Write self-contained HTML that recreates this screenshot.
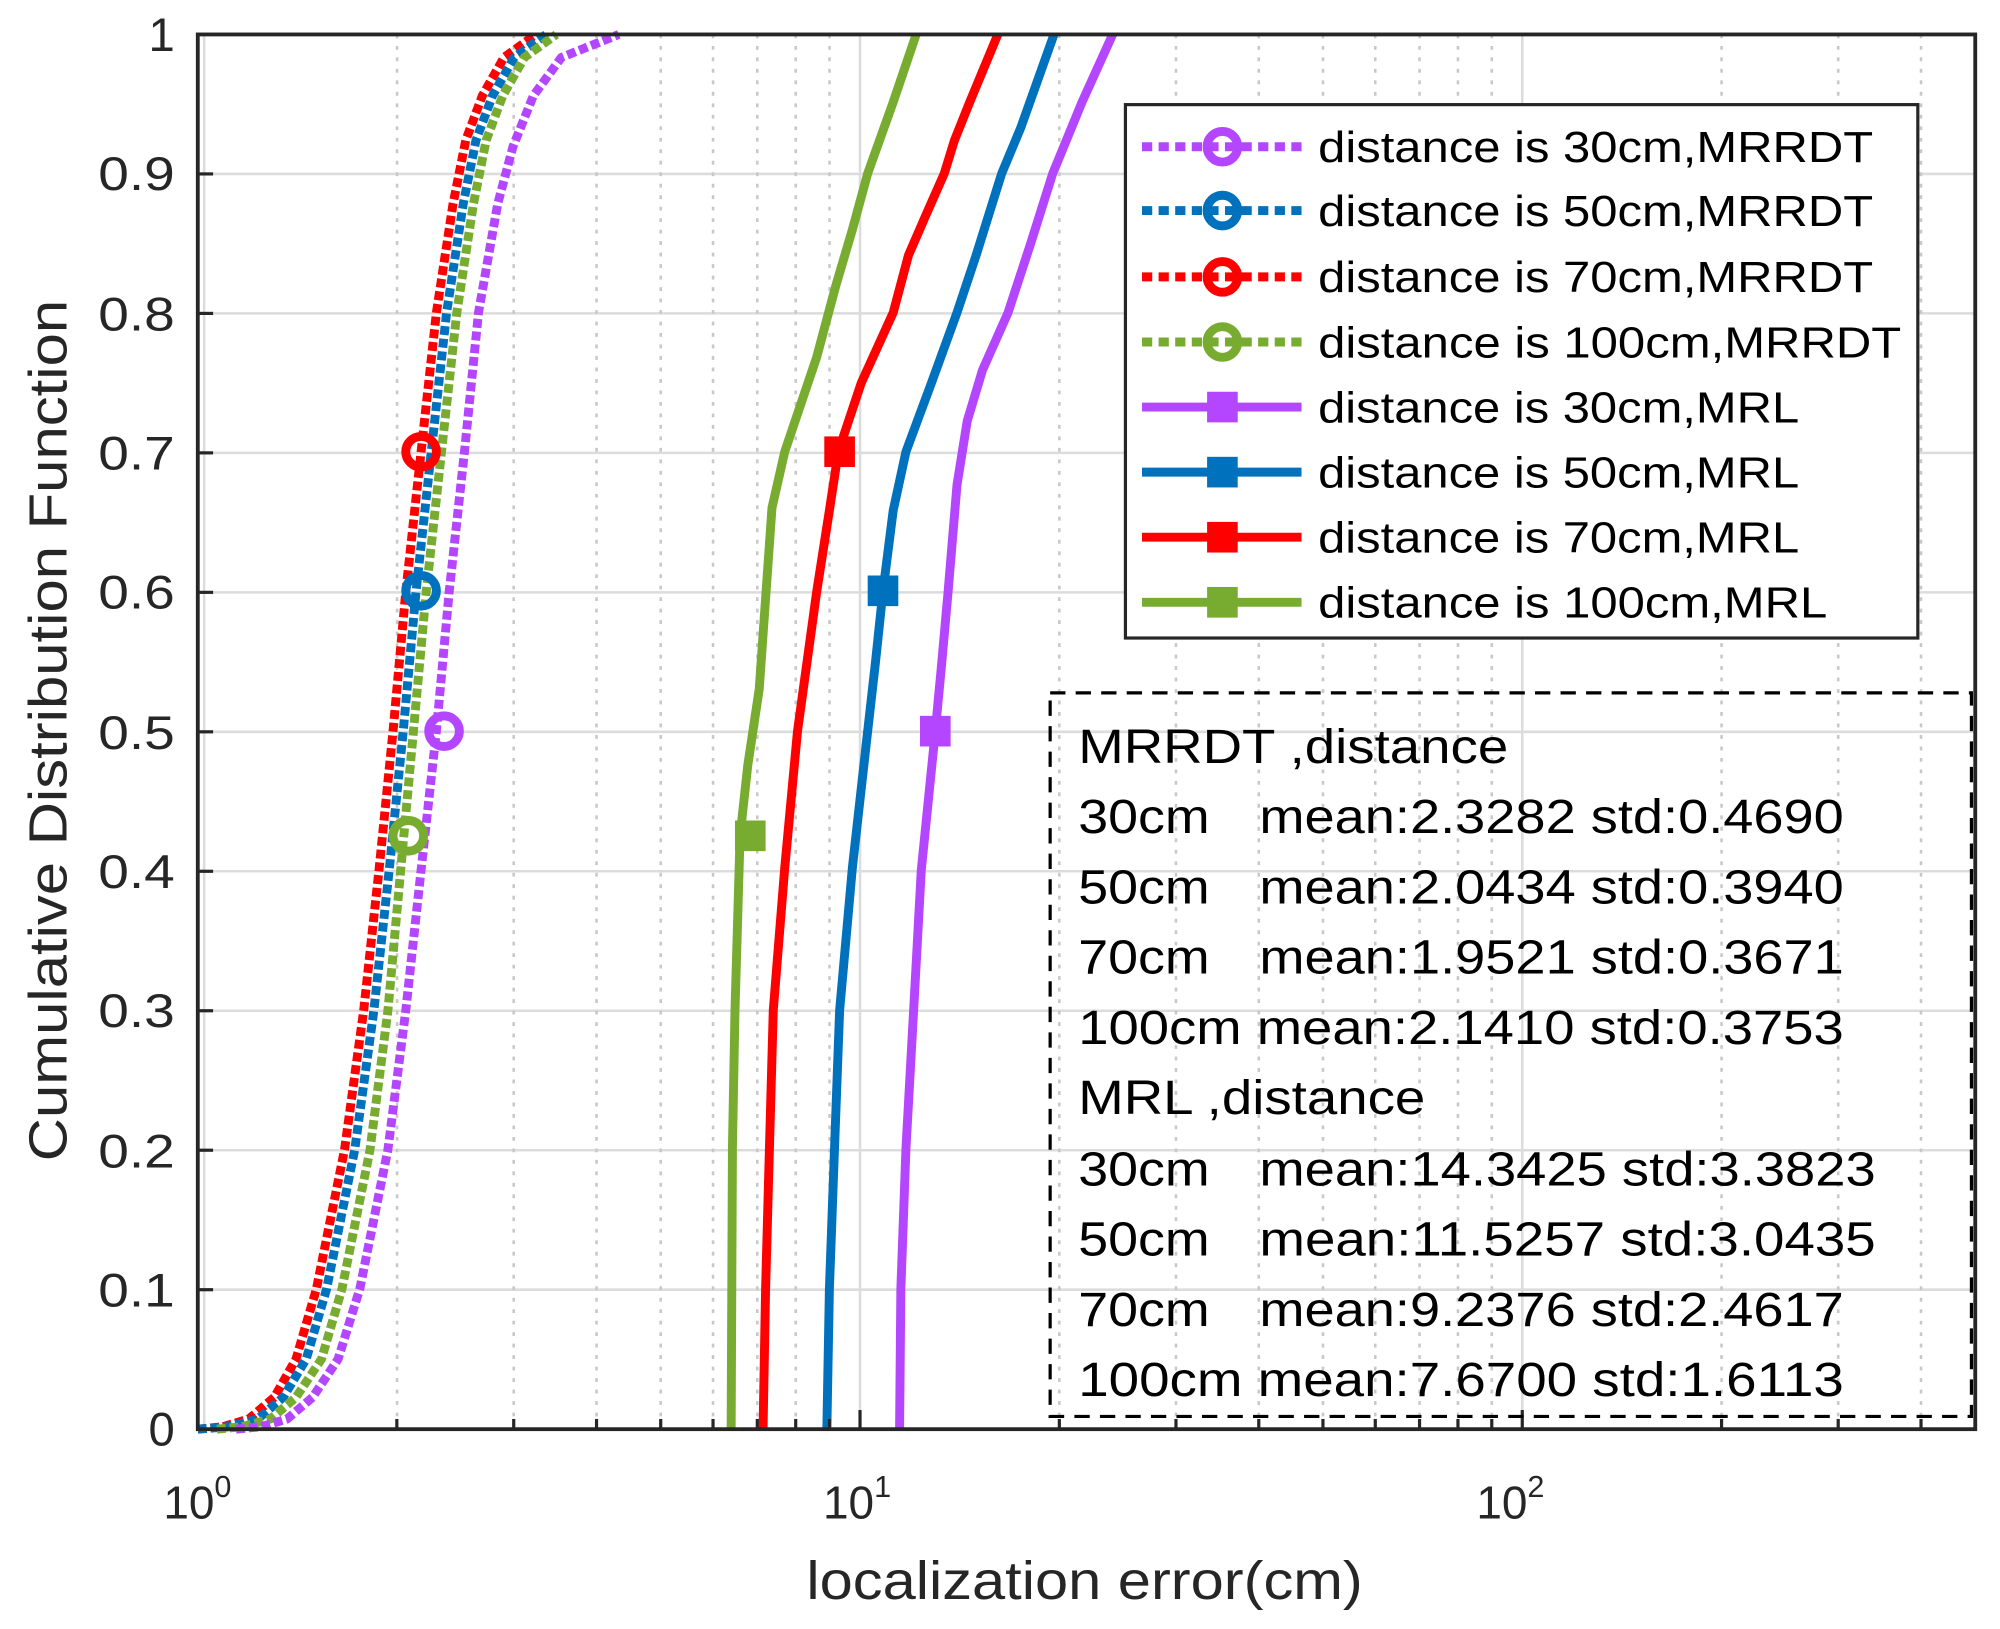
<!DOCTYPE html>
<html><head><meta charset="utf-8"><style>
html,body{margin:0;padding:0;background:#fff;}
svg{display:block;}
text{font-family:"Liberation Sans",sans-serif;}
</style></head><body>
<svg width="2000" height="1629" viewBox="0 0 1567.4 1276.6" preserveAspectRatio="none" xmlns="http://www.w3.org/2000/svg">
<rect x="0" y="0" width="1567.4" height="1276.6" fill="#fff"/>
<g stroke="#dcdcdc" stroke-width="2">
<line x1="155" x2="1548" y1="1010.7" y2="1010.7"/>
<line x1="155" x2="1548" y1="901.4" y2="901.4"/>
<line x1="155" x2="1548" y1="792.1" y2="792.1"/>
<line x1="155" x2="1548" y1="682.8" y2="682.8"/>
<line x1="155" x2="1548" y1="573.5" y2="573.5"/>
<line x1="155" x2="1548" y1="464.2" y2="464.2"/>
<line x1="155" x2="1548" y1="354.9" y2="354.9"/>
<line x1="155" x2="1548" y1="245.6" y2="245.6"/>
<line x1="155" x2="1548" y1="136.3" y2="136.3"/>
<line x1="160" x2="160" y1="27" y2="1120"/>
<line x1="674" x2="674" y1="27" y2="1120"/>
<line x1="1193" x2="1193" y1="27" y2="1120"/>
</g>
<g stroke="#c8c8c8" stroke-width="2" stroke-dasharray="3 6">
<line x1="311.2" x2="311.2" y1="27" y2="1120"/><line x1="402.6" x2="402.6" y1="27" y2="1120"/><line x1="467.5" x2="467.5" y1="27" y2="1120"/><line x1="517.8" x2="517.8" y1="27" y2="1120"/><line x1="558.8" x2="558.8" y1="27" y2="1120"/><line x1="593.5" x2="593.5" y1="27" y2="1120"/><line x1="623.6" x2="623.6" y1="27" y2="1120"/><line x1="650.1" x2="650.1" y1="27" y2="1120"/>
<line x1="830.2" x2="830.2" y1="27" y2="1120"/><line x1="921.6" x2="921.6" y1="27" y2="1120"/><line x1="986.5" x2="986.5" y1="27" y2="1120"/><line x1="1036.8" x2="1036.8" y1="27" y2="1120"/><line x1="1077.8" x2="1077.8" y1="27" y2="1120"/><line x1="1112.5" x2="1112.5" y1="27" y2="1120"/><line x1="1142.6" x2="1142.6" y1="27" y2="1120"/><line x1="1169.1" x2="1169.1" y1="27" y2="1120"/>
<line x1="1349.2" x2="1349.2" y1="27" y2="1120"/><line x1="1440.6" x2="1440.6" y1="27" y2="1120"/><line x1="1505.5" x2="1505.5" y1="27" y2="1120"/>
</g>
<g fill="none" stroke-width="7" stroke-linejoin="round">
<polyline stroke="#77ac30" points="573,1120 574,900 576,792 580,655 586,600 595,540 605,398 615,354 640,280 655,224 668,180 680,136 700,80 718,27"/>
<polyline stroke="#ff0000" points="598,1120 600,1010 603,900 606,792 615,680 625,573 640,464 650,400 657,354 675,300 700,245 712,200 725,170 740,136 748,110 760,80 782,27"/>
<polyline stroke="#0072bd" points="648,1120 650,1010 654,900 658,792 668,680 680,573 686,520 692,463 700,400 710,354 730,300 750,245 765,200 785,136 800,100 826,27"/>
<polyline stroke="#b546ff" points="705,1120 706,1010 710,900 716,792 722,682 733,573 738,520 743,464 750,380 758,330 770,290 790,245 808,190 825,136 848,80 872,27"/>
</g>
<g fill="none" stroke-width="7" stroke-dasharray="7 3" stroke-linejoin="round">
<polyline stroke="#ff0000" points="155,1120 175,1118 195,1112 215,1095 232,1065 248,1010 270,901 285,792 297,682 308,573 318,464 330,354 342,245 355,160 365,110 378,75 395,45 420,27"/>
<polyline stroke="#0072bd" points="155,1120 180,1118 202,1112 222,1095 240,1065 256,1010 278,901 293,792 305,682 316,573 326,464 338,354 350,245 363,160 373,110 386,75 403,45 428,27"/>
<polyline stroke="#77ac30" points="170,1120 190,1118 212,1112 232,1095 252,1065 268,1010 290,901 304,792 314,682 324,573 334,464 346,354 358,245 371,160 381,110 394,75 411,45 436,27"/>
<polyline stroke="#b546ff" points="185,1120 205,1118 225,1112 245,1095 265,1065 282,1010 304,901 318,792 330,682 342,573 352,464 364,354 375,245 390,160 402,115 418,75 440,45 485,27"/>
</g>
<g fill="none" stroke-width="7">
<circle cx="330" cy="354" r="12" stroke="#ff0000"/>
<circle cx="330" cy="463" r="12" stroke="#0072bd"/>
<circle cx="348" cy="573" r="12" stroke="#b546ff"/>
<circle cx="320" cy="655" r="12" stroke="#77ac30"/>
</g>
<rect x="646" y="342" width="24" height="24" fill="#ff0000"/>
<rect x="680" y="451" width="24" height="24" fill="#0072bd"/>
<rect x="721" y="561" width="24" height="24" fill="#b546ff"/>
<rect x="576" y="643" width="24" height="24" fill="#77ac30"/>
<rect x="155" y="27" width="1393" height="1093" fill="none" stroke="#262626" stroke-width="3"/>
<g stroke="#262626" stroke-width="2.5">
<line x1="155" x2="167" y1="1010.7" y2="1010.7"/><line x1="155" x2="167" y1="901.4" y2="901.4"/><line x1="155" x2="167" y1="792.1" y2="792.1"/><line x1="155" x2="167" y1="682.8" y2="682.8"/><line x1="155" x2="167" y1="573.5" y2="573.5"/><line x1="155" x2="167" y1="464.2" y2="464.2"/><line x1="155" x2="167" y1="354.9" y2="354.9"/><line x1="155" x2="167" y1="245.6" y2="245.6"/><line x1="155" x2="167" y1="136.3" y2="136.3"/>
<line x1="674" x2="674" y1="1120" y2="1105"/><line x1="1193" x2="1193" y1="1120" y2="1105"/>
<line x1="311" x2="311" y1="1120" y2="1112"/><line x1="402.6" x2="402.6" y1="1120" y2="1112"/><line x1="467.5" x2="467.5" y1="1120" y2="1112"/><line x1="517.8" x2="517.8" y1="1120" y2="1112"/><line x1="558.8" x2="558.8" y1="1120" y2="1112"/><line x1="593.5" x2="593.5" y1="1120" y2="1112"/><line x1="623.6" x2="623.6" y1="1120" y2="1112"/><line x1="650.1" x2="650.1" y1="1120" y2="1112"/>
<line x1="830.2" x2="830.2" y1="1120" y2="1112"/><line x1="921.6" x2="921.6" y1="1120" y2="1112"/><line x1="986.5" x2="986.5" y1="1120" y2="1112"/><line x1="1036.8" x2="1036.8" y1="1120" y2="1112"/><line x1="1077.8" x2="1077.8" y1="1120" y2="1112"/><line x1="1112.5" x2="1112.5" y1="1120" y2="1112"/><line x1="1142.6" x2="1142.6" y1="1120" y2="1112"/><line x1="1169.1" x2="1169.1" y1="1120" y2="1112"/>
<line x1="1349.2" x2="1349.2" y1="1120" y2="1112"/><line x1="1440.6" x2="1440.6" y1="1120" y2="1112"/><line x1="1505.5" x2="1505.5" y1="1120" y2="1112"/>
</g>
<g font-size="37" fill="#262626" text-anchor="end">
<text x="137" y="1133">0</text>
<text x="137" y="1024" textLength="60" lengthAdjust="spacingAndGlyphs">0.1</text>
<text x="137" y="915" textLength="60" lengthAdjust="spacingAndGlyphs">0.2</text>
<text x="137" y="805" textLength="60" lengthAdjust="spacingAndGlyphs">0.3</text>
<text x="137" y="696" textLength="60" lengthAdjust="spacingAndGlyphs">0.4</text>
<text x="137" y="587" textLength="60" lengthAdjust="spacingAndGlyphs">0.5</text>
<text x="137" y="477" textLength="60" lengthAdjust="spacingAndGlyphs">0.6</text>
<text x="137" y="368" textLength="60" lengthAdjust="spacingAndGlyphs">0.7</text>
<text x="137" y="259" textLength="60" lengthAdjust="spacingAndGlyphs">0.8</text>
<text x="137" y="149" textLength="60" lengthAdjust="spacingAndGlyphs">0.9</text>
<text x="137" y="40">1</text>
</g>
<g font-size="36" fill="#262626">
<text x="128" y="1190">10<tspan font-size="24" dy="-17">0</tspan></text>
<text x="645" y="1190">10<tspan font-size="24" dy="-17">1</tspan></text>
<text x="1157" y="1190">10<tspan font-size="24" dy="-17">2</tspan></text>
</g>
<text x="632" y="1253" font-size="42" fill="#262626" textLength="436" lengthAdjust="spacingAndGlyphs">localization error(cm)</text>
<text transform="translate(52,910) rotate(-90)" font-size="42" fill="#262626" textLength="675" lengthAdjust="spacingAndGlyphs">Cumulative Distribution Function</text>
<rect x="882" y="82" width="621" height="418" fill="#fff" stroke="#262626" stroke-width="2.5"/>
<g stroke-width="7" stroke-dasharray="8 5" fill="none">
<line x1="895" x2="1020" y1="115" y2="115" stroke="#b546ff"/>
<line x1="895" x2="1020" y1="165" y2="165" stroke="#0072bd"/>
<line x1="895" x2="1020" y1="217" y2="217" stroke="#ff0000"/>
<line x1="895" x2="1020" y1="268" y2="268" stroke="#77ac30"/>
</g>
<g fill="none" stroke-width="7">
<circle cx="958" cy="115" r="12" stroke="#b546ff"/><circle cx="958" cy="165" r="12" stroke="#0072bd"/><circle cx="958" cy="217" r="12" stroke="#ff0000"/><circle cx="958" cy="268" r="12" stroke="#77ac30"/>
</g>
<g stroke-width="7">
<line x1="895" x2="1020" y1="319" y2="319" stroke="#b546ff"/>
<line x1="895" x2="1020" y1="370" y2="370" stroke="#0072bd"/>
<line x1="895" x2="1020" y1="421" y2="421" stroke="#ff0000"/>
<line x1="895" x2="1020" y1="472" y2="472" stroke="#77ac30"/>
</g>
<rect x="946" y="307" width="24" height="24" fill="#b546ff"/><rect x="946" y="358" width="24" height="24" fill="#0072bd"/><rect x="946" y="409" width="24" height="24" fill="#ff0000"/><rect x="946" y="460" width="24" height="24" fill="#77ac30"/>
<g font-size="34" fill="#000" lengthAdjust="spacingAndGlyphs">
<text x="1033" y="127" textLength="435" lengthAdjust="spacingAndGlyphs">distance is 30cm,MRRDT</text>
<text x="1033" y="177" textLength="435" lengthAdjust="spacingAndGlyphs">distance is 50cm,MRRDT</text>
<text x="1033" y="229" textLength="435" lengthAdjust="spacingAndGlyphs">distance is 70cm,MRRDT</text>
<text x="1033" y="280" textLength="457" lengthAdjust="spacingAndGlyphs">distance is 100cm,MRRDT</text>
<text x="1033" y="331" textLength="377" lengthAdjust="spacingAndGlyphs">distance is 30cm,MRL</text>
<text x="1033" y="382" textLength="377" lengthAdjust="spacingAndGlyphs">distance is 50cm,MRL</text>
<text x="1033" y="433" textLength="377" lengthAdjust="spacingAndGlyphs">distance is 70cm,MRL</text>
<text x="1033" y="484" textLength="399" lengthAdjust="spacingAndGlyphs">distance is 100cm,MRL</text>
</g>
<rect x="823" y="543" width="722" height="567" fill="none" stroke="#000" stroke-width="2.5" stroke-dasharray="12 8"/>
<g font-size="38" fill="#000">
<text x="845" y="598" textLength="337" lengthAdjust="spacingAndGlyphs">MRRDT ,distance</text>
<text x="845" y="653" textLength="103" lengthAdjust="spacingAndGlyphs">30cm</text><text x="987" y="653" textLength="458" lengthAdjust="spacingAndGlyphs">mean:2.3282 std:0.4690</text>
<text x="845" y="708" textLength="103" lengthAdjust="spacingAndGlyphs">50cm</text><text x="987" y="708" textLength="458" lengthAdjust="spacingAndGlyphs">mean:2.0434 std:0.3940</text>
<text x="845" y="763" textLength="103" lengthAdjust="spacingAndGlyphs">70cm</text><text x="987" y="763" textLength="458" lengthAdjust="spacingAndGlyphs">mean:1.9521 std:0.3671</text>
<text x="845" y="818" textLength="600" lengthAdjust="spacingAndGlyphs">100cm mean:2.1410 std:0.3753</text>
<text x="845" y="873" textLength="272" lengthAdjust="spacingAndGlyphs">MRL ,distance</text>
<text x="845" y="929" textLength="103" lengthAdjust="spacingAndGlyphs">30cm</text><text x="987" y="929" textLength="483" lengthAdjust="spacingAndGlyphs">mean:14.3425 std:3.3823</text>
<text x="845" y="984" textLength="103" lengthAdjust="spacingAndGlyphs">50cm</text><text x="987" y="984" textLength="483" lengthAdjust="spacingAndGlyphs">mean:11.5257 std:3.0435</text>
<text x="845" y="1039" textLength="103" lengthAdjust="spacingAndGlyphs">70cm</text><text x="987" y="1039" textLength="458" lengthAdjust="spacingAndGlyphs">mean:9.2376 std:2.4617</text>
<text x="845" y="1094" textLength="600" lengthAdjust="spacingAndGlyphs">100cm mean:7.6700 std:1.6113</text>
</g>
</svg>
</body></html>
